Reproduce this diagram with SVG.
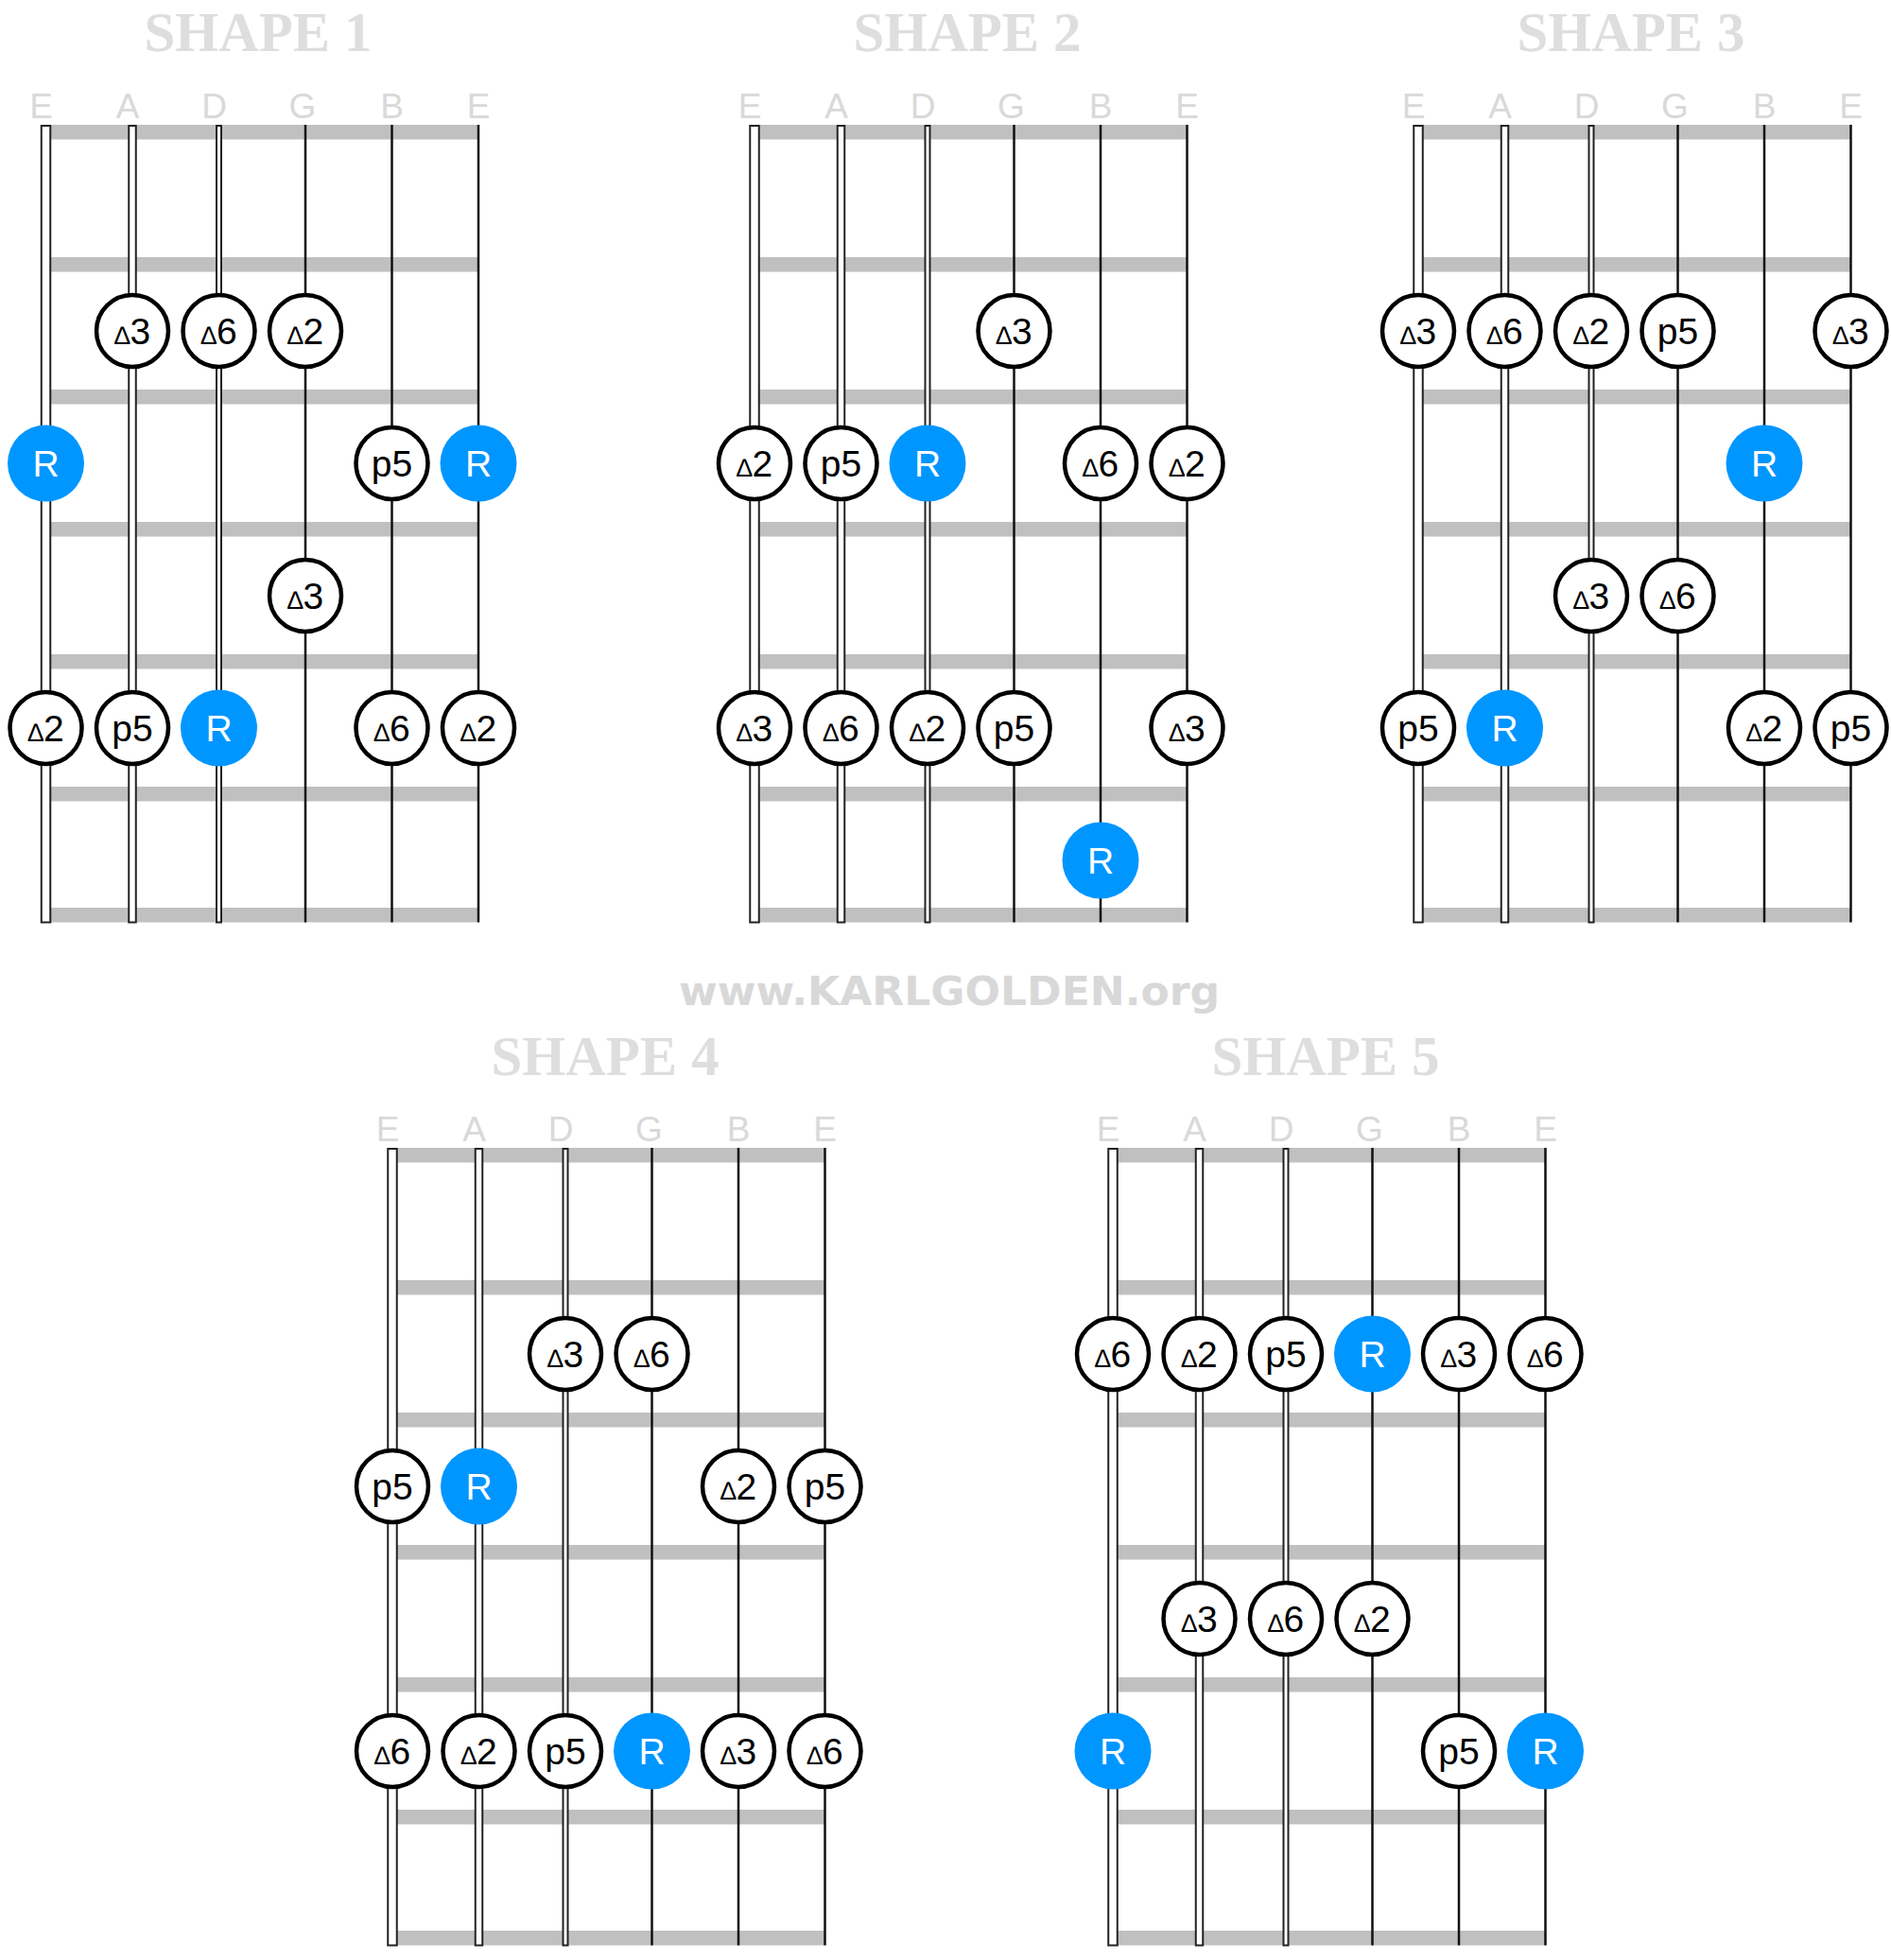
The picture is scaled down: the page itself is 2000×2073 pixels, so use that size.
<svg xmlns="http://www.w3.org/2000/svg" xmlns:xlink="http://www.w3.org/1999/xlink" width="2000" height="2073" viewBox="0 0 2000 2073">
<style>
.fret{fill:#c0c0c0}
.tube{fill:#fff;stroke:#222;stroke-width:2}
.str{stroke:#111;stroke-width:2.5}
.title{font-family:"Liberation Serif","Times New Roman",serif;font-weight:bold;font-size:59px;fill:#dedede;text-anchor:middle}
.lbl{font-family:"Liberation Sans",Arial,sans-serif;font-size:37px;fill:#d9d9d9;text-anchor:middle}
.wm{font-family:"DejaVu Sans",Verdana,sans-serif;font-weight:bold;font-size:43px;fill:#d8d8d8;text-anchor:middle}
.n circle{fill:#fff;stroke:#000;stroke-width:4.5}
.r circle{fill:#0096ff}
.nt{font-family:"Liberation Sans",Arial,sans-serif;font-size:39px;fill:#000;text-anchor:middle}
.r .nt{fill:#fff}
.tri{font-size:27px}
</style>
<defs>
<g id="board">
<rect class="fret" x="0" y="0" width="457.5" height="15.5"/>
<rect class="fret" x="0" y="140" width="457.5" height="15.5"/>
<rect class="fret" x="0" y="280" width="457.5" height="15.5"/>
<rect class="fret" x="0" y="420" width="457.5" height="15.5"/>
<rect class="fret" x="0" y="560" width="457.5" height="15.5"/>
<rect class="fret" x="0" y="700" width="457.5" height="15.5"/>
<rect class="fret" x="0" y="828" width="457.5" height="15.5"/>
<rect class="tube" x="-4.75" y="1" width="9.5" height="842.5"/>
<rect class="tube" x="87.75" y="1" width="7.5" height="842.5"/>
<rect class="tube" x="180.5" y="1" width="5" height="842.5"/>
<line class="str" x1="274.5" y1="0" x2="274.5" y2="843.5"/>
<line class="str" x1="366" y1="0" x2="366" y2="843.5"/>
<line class="str" x1="457.5" y1="0" x2="457.5" y2="843.5"/>
</g>
</defs>
<rect width="2000" height="2073" fill="#fff"/>
<text class="wm" x="1004" y="1063" textLength="572" lengthAdjust="spacingAndGlyphs">www.KARLGOLDEN.org</text>

<g id="shape1">
<text class="title" x="273" y="54">SHAPE 1</text>
<g class="lbl"><text x="43.5" y="125">E</text><text x="135" y="125">A</text><text x="226.5" y="125">D</text><text x="320" y="125">G</text><text x="414.5" y="125">B</text><text x="506" y="125">E</text></g>
<use xlink:href="#board" x="48.5" y="132"/>
<g id="s1-r1-A" class="n"><circle cx="140" cy="350" r="38"/><text class="nt" x="140" y="364"><tspan class="tri">∆</tspan>3</text></g>
<g id="s1-r1-D" class="n"><circle cx="231.5" cy="350" r="38"/><text class="nt" x="231.5" y="364"><tspan class="tri">∆</tspan>6</text></g>
<g id="s1-r1-G" class="n"><circle cx="323" cy="350" r="38"/><text class="nt" x="323" y="364"><tspan class="tri">∆</tspan>2</text></g>
<g id="s1-r2-E" class="r"><circle cx="48.5" cy="490" r="40.5"/><text class="nt" x="48.5" y="504">R</text></g>
<g id="s1-r2-B" class="n"><circle cx="414.5" cy="490" r="38"/><text class="nt" x="414.5" y="504">p5</text></g>
<g id="s1-r2-e" class="r"><circle cx="506" cy="490" r="40.5"/><text class="nt" x="506" y="504">R</text></g>
<g id="s1-r3-G" class="n"><circle cx="323" cy="630" r="38"/><text class="nt" x="323" y="644"><tspan class="tri">∆</tspan>3</text></g>
<g id="s1-r4-E" class="n"><circle cx="48.5" cy="770" r="38"/><text class="nt" x="48.5" y="784"><tspan class="tri">∆</tspan>2</text></g>
<g id="s1-r4-A" class="n"><circle cx="140" cy="770" r="38"/><text class="nt" x="140" y="784">p5</text></g>
<g id="s1-r4-D" class="r"><circle cx="231.5" cy="770" r="40.5"/><text class="nt" x="231.5" y="784">R</text></g>
<g id="s1-r4-B" class="n"><circle cx="414.5" cy="770" r="38"/><text class="nt" x="414.5" y="784"><tspan class="tri">∆</tspan>6</text></g>
<g id="s1-r4-e" class="n"><circle cx="506" cy="770" r="38"/><text class="nt" x="506" y="784"><tspan class="tri">∆</tspan>2</text></g>
</g>

<g id="shape2">
<text class="title" x="1023" y="54">SHAPE 2</text>
<g class="lbl"><text x="793" y="125">E</text><text x="884.5" y="125">A</text><text x="976" y="125">D</text><text x="1069.5" y="125">G</text><text x="1164" y="125">B</text><text x="1255.5" y="125">E</text></g>
<use xlink:href="#board" x="798" y="132"/>
<g id="s2-r1-G" class="n"><circle cx="1072.5" cy="350" r="38"/><text class="nt" x="1072.5" y="364"><tspan class="tri">∆</tspan>3</text></g>
<g id="s2-r2-E" class="n"><circle cx="798" cy="490" r="38"/><text class="nt" x="798" y="504"><tspan class="tri">∆</tspan>2</text></g>
<g id="s2-r2-A" class="n"><circle cx="889.5" cy="490" r="38"/><text class="nt" x="889.5" y="504">p5</text></g>
<g id="s2-r2-D" class="r"><circle cx="981" cy="490" r="40.5"/><text class="nt" x="981" y="504">R</text></g>
<g id="s2-r2-B" class="n"><circle cx="1164" cy="490" r="38"/><text class="nt" x="1164" y="504"><tspan class="tri">∆</tspan>6</text></g>
<g id="s2-r2-e" class="n"><circle cx="1255.5" cy="490" r="38"/><text class="nt" x="1255.5" y="504"><tspan class="tri">∆</tspan>2</text></g>
<g id="s2-r4-E" class="n"><circle cx="798" cy="770" r="38"/><text class="nt" x="798" y="784"><tspan class="tri">∆</tspan>3</text></g>
<g id="s2-r4-A" class="n"><circle cx="889.5" cy="770" r="38"/><text class="nt" x="889.5" y="784"><tspan class="tri">∆</tspan>6</text></g>
<g id="s2-r4-D" class="n"><circle cx="981" cy="770" r="38"/><text class="nt" x="981" y="784"><tspan class="tri">∆</tspan>2</text></g>
<g id="s2-r4-G" class="n"><circle cx="1072.5" cy="770" r="38"/><text class="nt" x="1072.5" y="784">p5</text></g>
<g id="s2-r4-e" class="n"><circle cx="1255.5" cy="770" r="38"/><text class="nt" x="1255.5" y="784"><tspan class="tri">∆</tspan>3</text></g>
<g id="s2-r5-B" class="r"><circle cx="1164" cy="910" r="40.5"/><text class="nt" x="1164" y="924">R</text></g>
</g>

<g id="shape3">
<text class="title" x="1725" y="54">SHAPE 3</text>
<g class="lbl"><text x="1495" y="125">E</text><text x="1586.5" y="125">A</text><text x="1678" y="125">D</text><text x="1771.5" y="125">G</text><text x="1866" y="125">B</text><text x="1957.5" y="125">E</text></g>
<use xlink:href="#board" x="1500" y="132"/>
<g id="s3-r1-E" class="n"><circle cx="1500" cy="350" r="38"/><text class="nt" x="1500" y="364"><tspan class="tri">∆</tspan>3</text></g>
<g id="s3-r1-A" class="n"><circle cx="1591.5" cy="350" r="38"/><text class="nt" x="1591.5" y="364"><tspan class="tri">∆</tspan>6</text></g>
<g id="s3-r1-D" class="n"><circle cx="1683" cy="350" r="38"/><text class="nt" x="1683" y="364"><tspan class="tri">∆</tspan>2</text></g>
<g id="s3-r1-G" class="n"><circle cx="1774.5" cy="350" r="38"/><text class="nt" x="1774.5" y="364">p5</text></g>
<g id="s3-r1-e" class="n"><circle cx="1957.5" cy="350" r="38"/><text class="nt" x="1957.5" y="364"><tspan class="tri">∆</tspan>3</text></g>
<g id="s3-r2-B" class="r"><circle cx="1866" cy="490" r="40.5"/><text class="nt" x="1866" y="504">R</text></g>
<g id="s3-r3-D" class="n"><circle cx="1683" cy="630" r="38"/><text class="nt" x="1683" y="644"><tspan class="tri">∆</tspan>3</text></g>
<g id="s3-r3-G" class="n"><circle cx="1774.5" cy="630" r="38"/><text class="nt" x="1774.5" y="644"><tspan class="tri">∆</tspan>6</text></g>
<g id="s3-r4-E" class="n"><circle cx="1500" cy="770" r="38"/><text class="nt" x="1500" y="784">p5</text></g>
<g id="s3-r4-A" class="r"><circle cx="1591.5" cy="770" r="40.5"/><text class="nt" x="1591.5" y="784">R</text></g>
<g id="s3-r4-B" class="n"><circle cx="1866" cy="770" r="38"/><text class="nt" x="1866" y="784"><tspan class="tri">∆</tspan>2</text></g>
<g id="s3-r4-e" class="n"><circle cx="1957.5" cy="770" r="38"/><text class="nt" x="1957.5" y="784">p5</text></g>
</g>

<g id="shape4">
<text class="title" x="640" y="1137">SHAPE 4</text>
<g class="lbl"><text x="410" y="1207">E</text><text x="501.5" y="1207">A</text><text x="593" y="1207">D</text><text x="686.5" y="1207">G</text><text x="781" y="1207">B</text><text x="872.5" y="1207">E</text></g>
<use xlink:href="#board" x="415" y="1214"/>
<g id="s4-r1-D" class="n"><circle cx="598" cy="1432" r="38"/><text class="nt" x="598" y="1446"><tspan class="tri">∆</tspan>3</text></g>
<g id="s4-r1-G" class="n"><circle cx="689.5" cy="1432" r="38"/><text class="nt" x="689.5" y="1446"><tspan class="tri">∆</tspan>6</text></g>
<g id="s4-r2-E" class="n"><circle cx="415" cy="1572" r="38"/><text class="nt" x="415" y="1586">p5</text></g>
<g id="s4-r2-A" class="r"><circle cx="506.5" cy="1572" r="40.5"/><text class="nt" x="506.5" y="1586">R</text></g>
<g id="s4-r2-B" class="n"><circle cx="781" cy="1572" r="38"/><text class="nt" x="781" y="1586"><tspan class="tri">∆</tspan>2</text></g>
<g id="s4-r2-e" class="n"><circle cx="872.5" cy="1572" r="38"/><text class="nt" x="872.5" y="1586">p5</text></g>
<g id="s4-r4-E" class="n"><circle cx="415" cy="1852" r="38"/><text class="nt" x="415" y="1866"><tspan class="tri">∆</tspan>6</text></g>
<g id="s4-r4-A" class="n"><circle cx="506.5" cy="1852" r="38"/><text class="nt" x="506.5" y="1866"><tspan class="tri">∆</tspan>2</text></g>
<g id="s4-r4-D" class="n"><circle cx="598" cy="1852" r="38"/><text class="nt" x="598" y="1866">p5</text></g>
<g id="s4-r4-G" class="r"><circle cx="689.5" cy="1852" r="40.5"/><text class="nt" x="689.5" y="1866">R</text></g>
<g id="s4-r4-B" class="n"><circle cx="781" cy="1852" r="38"/><text class="nt" x="781" y="1866"><tspan class="tri">∆</tspan>3</text></g>
<g id="s4-r4-e" class="n"><circle cx="872.5" cy="1852" r="38"/><text class="nt" x="872.5" y="1866"><tspan class="tri">∆</tspan>6</text></g>
</g>

<g id="shape5">
<text class="title" x="1402" y="1137">SHAPE 5</text>
<g class="lbl"><text x="1172" y="1207">E</text><text x="1263.5" y="1207">A</text><text x="1355" y="1207">D</text><text x="1448.5" y="1207">G</text><text x="1543" y="1207">B</text><text x="1634.5" y="1207">E</text></g>
<use xlink:href="#board" x="1177" y="1214"/>
<g id="s5-r1-E" class="n"><circle cx="1177" cy="1432" r="38"/><text class="nt" x="1177" y="1446"><tspan class="tri">∆</tspan>6</text></g>
<g id="s5-r1-A" class="n"><circle cx="1268.5" cy="1432" r="38"/><text class="nt" x="1268.5" y="1446"><tspan class="tri">∆</tspan>2</text></g>
<g id="s5-r1-D" class="n"><circle cx="1360" cy="1432" r="38"/><text class="nt" x="1360" y="1446">p5</text></g>
<g id="s5-r1-G" class="r"><circle cx="1451.5" cy="1432" r="40.5"/><text class="nt" x="1451.5" y="1446">R</text></g>
<g id="s5-r1-B" class="n"><circle cx="1543" cy="1432" r="38"/><text class="nt" x="1543" y="1446"><tspan class="tri">∆</tspan>3</text></g>
<g id="s5-r1-e" class="n"><circle cx="1634.5" cy="1432" r="38"/><text class="nt" x="1634.5" y="1446"><tspan class="tri">∆</tspan>6</text></g>
<g id="s5-r3-A" class="n"><circle cx="1268.5" cy="1712" r="38"/><text class="nt" x="1268.5" y="1726"><tspan class="tri">∆</tspan>3</text></g>
<g id="s5-r3-D" class="n"><circle cx="1360" cy="1712" r="38"/><text class="nt" x="1360" y="1726"><tspan class="tri">∆</tspan>6</text></g>
<g id="s5-r3-G" class="n"><circle cx="1451.5" cy="1712" r="38"/><text class="nt" x="1451.5" y="1726"><tspan class="tri">∆</tspan>2</text></g>
<g id="s5-r4-E" class="r"><circle cx="1177" cy="1852" r="40.5"/><text class="nt" x="1177" y="1866">R</text></g>
<g id="s5-r4-B" class="n"><circle cx="1543" cy="1852" r="38"/><text class="nt" x="1543" y="1866">p5</text></g>
<g id="s5-r4-e" class="r"><circle cx="1634.5" cy="1852" r="40.5"/><text class="nt" x="1634.5" y="1866">R</text></g>
</g>
</svg>
